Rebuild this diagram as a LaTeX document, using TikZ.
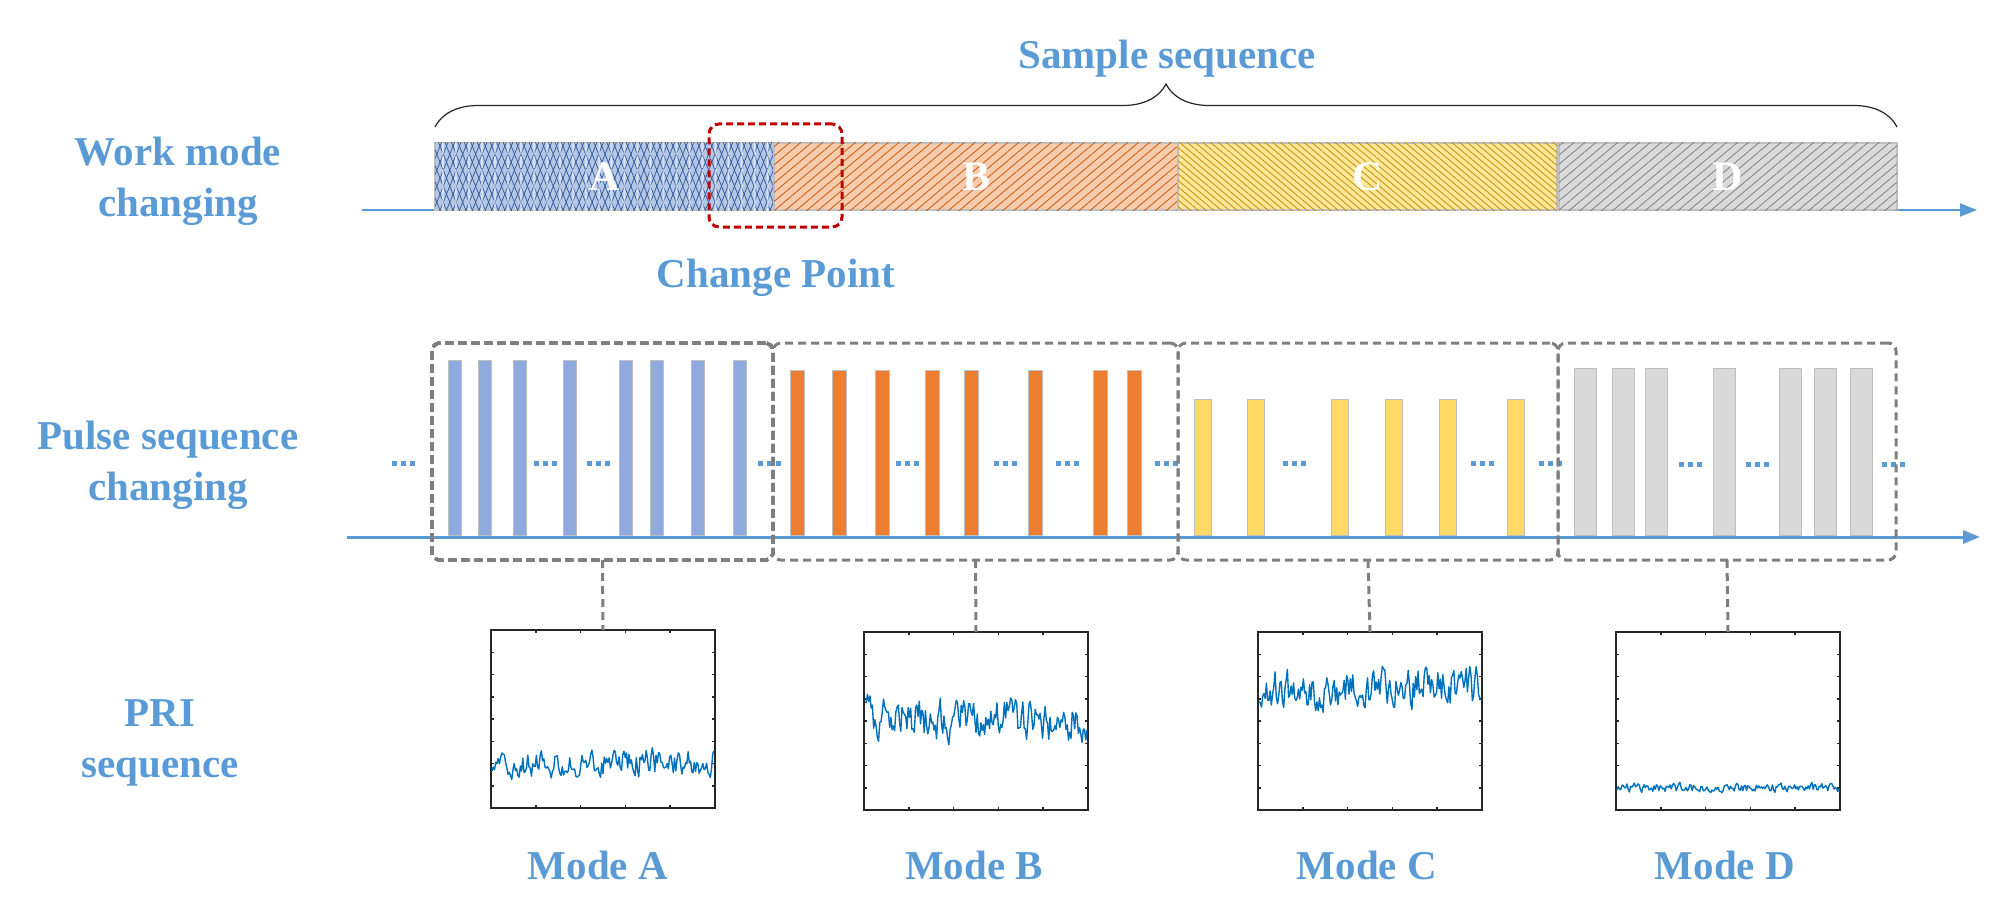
\documentclass[tikz,border=0pt]{standalone}
\usepackage{fontspec}
\setmainfont{Liberation Serif}
\usetikzlibrary{patterns.meta,decorations.pathreplacing,arrows.meta,calc}
\definecolor{lblue}{HTML}{5B9BD5}
\definecolor{pA}{HTML}{8FAADC}
\definecolor{pB}{HTML}{ED7D31}
\definecolor{pC}{HTML}{FFD966}
\definecolor{pD}{HTML}{D9D9D9}
\definecolor{outl}{HTML}{BFBFBF}
\definecolor{dgray}{HTML}{7F7F7F}
\definecolor{cpred}{HTML}{C00000}
\definecolor{sigc}{HTML}{0072BD}
\definecolor{axc}{HTML}{262626}
\definecolor{sAbg}{HTML}{B4C7E7}
\definecolor{sAfg}{HTML}{2F5597}
\definecolor{sBbg}{HTML}{F8CBAD}
\definecolor{sBfg}{HTML}{C55A11}
\definecolor{sCbg}{HTML}{FFE699}
\definecolor{sCfg}{HTML}{BF9000}
\definecolor{sDbg}{HTML}{D9D9D9}
\definecolor{sDfg}{HTML}{7F7F7F}
\tikzset{
 lbl/.style={text=lblue, font=\fontsize{41}{51}\selectfont\bfseries, align=center, inner sep=0pt},
 seg/.style={draw=outl, line width=2.5pt, minimum height=67pt, inner sep=0pt, outer sep=0pt, text=white, font=\fontsize{42}{42}\selectfont\bfseries},
 pbox/.style={draw=dgray, line width=3pt, dash pattern=on 8pt off 5pt, rounded corners=8pt, minimum height=217pt, inner sep=0pt, outer sep=0pt},
 prib/.style={draw=axc, line width=2pt, minimum width=224pt, minimum height=178pt, inner sep=0pt, outer sep=0pt},
 conn/.style={draw=dgray, line width=3pt, dash pattern=on 8pt off 5pt},
 sig/.style={draw=sigc, line width=1.4pt, line join=round},
 axisl/.style={draw=lblue, -{Triangle[length=17pt,width=13pt]}},
 pulse/.style={draw=outl, line width=1pt},
 tick/.style={draw=axc, line width=1.5pt},
}
\newcommand\myNoise[6]{%
 \pgfmathsetseed{#5}%
 \gdef\myNprev{0}%
 \gdef\myNpath{}%
 \pgfmathsetmacro\myNstep{(#2-#1)/#6}%
 \foreach \i in {0,...,#6}{%
   \pgfmathsetmacro\myNv{0.45*\myNprev+rand}%
   \xdef\myNprev{\myNv}%
   \pgfmathsetmacro\myNx{#1+\myNstep*\i}%
   \pgfmathsetmacro\myNy{#3+#4*\myNv}%
   \xdef\myNpath{\myNpath(\myNx,\myNy)}%
 }%
 \draw[sig] plot coordinates {\myNpath};%
}
\newcommand\myTicks[1]{%
 \foreach \k in {1,...,7}{%
  \draw[tick] ($(#1.north west)!\k/8!(#1.south west)$) -- ++(3,0);
  \draw[tick] ($(#1.north east)!\k/8!(#1.south east)$) -- ++(-3,0);
 }%
 \foreach \k in {1,...,4}{%
  \draw[tick] ($(#1.north west)!\k/5!(#1.north east)$) -- ++(0,3);
  \draw[tick] ($(#1.south west)!\k/5!(#1.south east)$) -- ++(0,-3);
 }%
}
\newcommand\myDots[2]{%
 \foreach \o in {-9,0,9}{\fill[lblue] (#1+\o-2.5,#2-2.5) rectangle (#1+\o+2.5,#2+2.5);}%
}
\begin{document}
\begin{tikzpicture}[x=1pt,y=-1pt]
\useasboundingbox (0,0) rectangle (2007,915);
% ---- top row
\node[lbl] (sample) at (1167,59) {Sample sequence};
\coordinate (bl) at (435,127);
\coordinate (br) at (1897,127);
\draw[decorate, decoration={brace, amplitude=43pt}, line width=1.2pt, draw=black!85] (bl) -- (br);
\node[lbl] (wm) at (178,181) {Work mode\\changing};
\coordinate (ax1s) at (362,210);
\coordinate (ax1e) at (1977,210);
\draw[axisl, line width=2pt] (ax1s) -- (ax1e);
\node[seg, minimum width=339pt, fill=sAbg,
  postaction={pattern={Lines[angle=68,distance=6pt,line width=0.7pt]}, pattern color=sAfg},
  postaction={pattern={Lines[angle=-68,distance=6pt,line width=0.7pt]}, pattern color=sAfg},
  postaction={pattern={Lines[angle=90,distance=13pt,line width=1pt]}, pattern color=white}] (segA) at (604.5,176.5) {A};
\node[seg, minimum width=404pt, fill=sBbg,
  postaction={pattern={Lines[angle=40,distance=7pt,line width=0.8pt]}, pattern color=sBfg}] (segB) at (976,176.5) {B};
\node[seg, minimum width=379pt, fill=sCbg,
  postaction={pattern={Lines[angle=-40,distance=5pt,line width=0.8pt]}, pattern color=sCfg}] (segC) at (1367.5,176.5) {C};
\node[seg, minimum width=338pt, fill=sDbg,
  postaction={pattern={Lines[angle=40,distance=7pt,line width=0.8pt]}, pattern color=sDfg}] (segD) at (1728,176.5) {D};
\node[draw=cpred, line width=3pt, dash pattern=on 7pt off 4pt, rounded corners=10pt, minimum width=133pt, minimum height=103pt, inner sep=0pt] (chg) at (775.5,175.5) {};
\node[lbl] (cp) at (776,278) {Change Point};
% ---- pulse row
\node[lbl] (ps) at (168,465) {Pulse sequence\\changing};
\coordinate (ax2s) at (347,537);
\coordinate (ax2e) at (1980,537);
\draw[axisl, line width=3pt] (ax2s) -- (ax2e);
\foreach \xl in {448.3,478.3,513.3,563.3,619.3,650.3,691.3,733.3}
  \filldraw[pulse, fill=pA] (\xl,360.7) rectangle (\xl+13.5,535);
\foreach \xl in {790.7,832.7,875.7,925.7,964.7,1028.7,1093.7,1127.7}
  \filldraw[pulse, fill=pB] (\xl,370.7) rectangle (\xl+13.5,535);
\foreach \xl in {1194.3,1247.3,1331.3,1385.3,1439.3,1507.3}
  \filldraw[pulse, fill=pC] (\xl,399.3) rectangle (\xl+17.4,535);
\foreach \xl in {1574.3,1612.3,1645.3,1713.3,1779.3,1814.3,1850.3}
  \filldraw[pulse, fill=pD] (\xl,368.3) rectangle (\xl+22.4,535);
\foreach \cx in {403,545,598,769,907,1005,1067.5,1166,1294,1482,1550}
  \myDots{\cx}{463}
\foreach \cx in {1690.5,1757,1893.5}
  \myDots{\cx}{464.5}
\node[pbox, minimum width=341pt] (boxA) at (602.5,451.5) {};
\node[pbox, minimum width=405pt] (boxB) at (975.5,451.5) {};
\node[pbox, minimum width=380pt] (boxC) at (1368,451.5) {};
\node[pbox, minimum width=338pt] (boxD) at (1727,451.5) {};
% ---- PRI row
\node[lbl] (pri) at (160,743) {PRI\\sequence};
\node[prib] (plotA) at (603,719) {};
\node[prib] (plotB) at (976,721) {};
\node[prib] (plotC) at (1370,721) {};
\node[prib] (plotD) at (1728,721) {};
\draw[conn] (boxA.south) -- (plotA.north);
\draw[conn] (boxB.south) -- (plotB.north);
\draw[conn] (boxC.south) -- (plotC.north);
\draw[conn] (boxD.south) -- (plotD.north);
\myTicks{plotA}
\myTicks{plotB}
\myTicks{plotC}
\myTicks{plotD}
\myNoise{492}{714}{763}{12}{11}{180}
\myNoise{865}{1087}{720}{18}{23}{180}
\myNoise{1259}{1481}{688}{18}{37}{180}
\myNoise{1617}{1839}{788}{4}{51}{180}
\node[lbl] (mA) at (598,865) {Mode A};
\node[lbl] (mB) at (974,865) {Mode B};
\node[lbl] (mC) at (1367,865) {Mode C};
\node[lbl] (mD) at (1725,865) {Mode D};
\end{tikzpicture}
\end{document}
